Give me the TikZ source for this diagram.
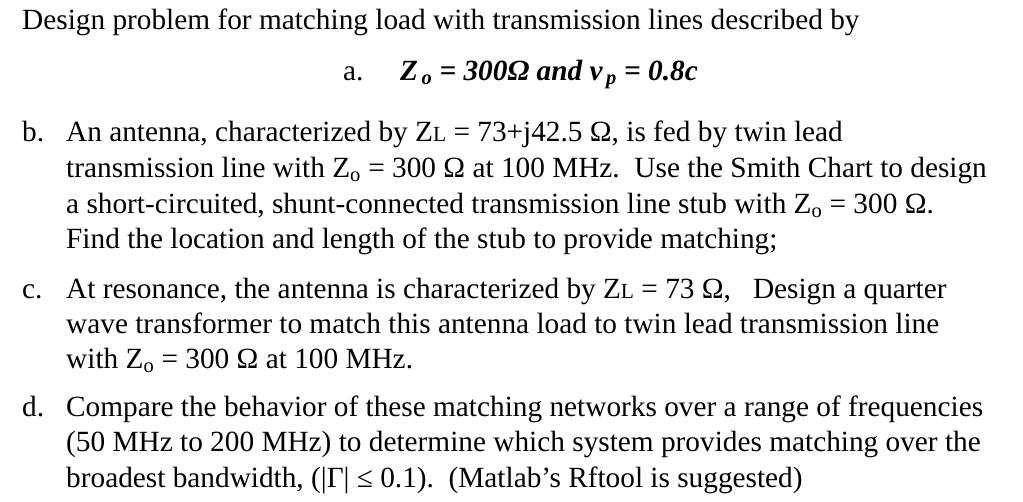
\documentclass[tikz,border=0pt]{standalone}
\usepackage{fontspec}
\setmainfont{Liberation Serif}
\begin{document}
\begin{tikzpicture}[x=1pt,y=-1pt,
  t/.style={anchor=base west,inner sep=0pt,font=\fontsize{29.3}{32}\selectfont}]
\useasboundingbox[fill=white] (0,0) rectangle (1023,502);
\newcommand{\Zo}{Z\textsubscript{o}}
\newcommand{\ZL}{Z{\fontsize{21.5}{24}\selectfont L}}
\node[t] (l0) at (22,30) {Design problem for matching load with transmission lines described by};
\node[t] (a) at (343,81) {a.};
\node[t] (ae) at (400,81) {\bfseries\itshape Z\textsubscript{\,o} = 300Ω and v\textsubscript{\,p} = 0.8c};
\node[t] (b) at (22,142) {b.};
\node[t] (b1) at (66,142) {An antenna, characterized by \ZL{} = 73+j42.5 Ω, is fed by twin lead};
\node[t] (b2) at (66,178) {transmission line with \Zo{} = 300 Ω at 100 MHz.\ \ Use the Smith Chart to design};
\node[t] (b3) at (66,214) {a short-circuited, shunt-connected transmission line stub with \Zo{} = 300 Ω.};
\node[t] (b4) at (66,249) {Find the location and length of the stub to provide matching;};
\node[t] (c) at (22,299) {c.};
\node[t] (c1) at (66,299) {At resonance, the antenna is characterized by \ZL{} = 73 Ω,\ \ \ Design a quarter};
\node[t] (c2) at (66,334) {wave transformer to match this antenna load to twin lead transmission line};
\node[t] (c3) at (66,369) {with \Zo{} = 300 Ω at 100 MHz.};
\node[t] (d) at (22,417) {d.};
\node[t] (d1) at (66,417) {Compare the behavior of these matching networks over a range of frequencies};
\node[t] (d2) at (66,452) {(50 MHz to 200 MHz) to determine which system provides matching over the};
\node[t] (d3) at (66,487) {broadest bandwidth, (|Γ| ≤ 0.1).\ \ (Matlab’s Rftool is suggested)};
\end{tikzpicture}
\end{document}
